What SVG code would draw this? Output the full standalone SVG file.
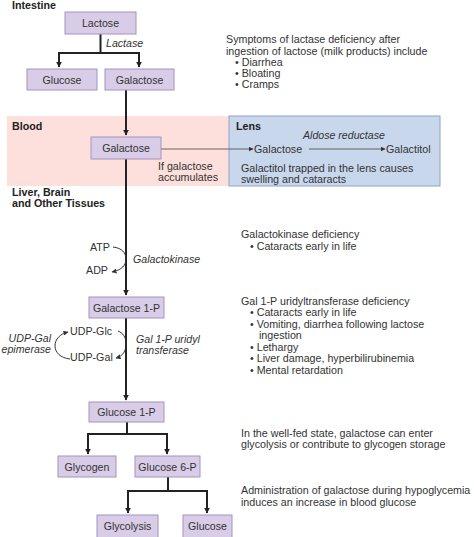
<svg xmlns="http://www.w3.org/2000/svg" width="474" height="537" viewBox="0 0 474 537">
<defs>
<marker id="ah" viewBox="0 0 10 10" refX="9" refY="5" markerWidth="6" markerHeight="6" markerUnits="userSpaceOnUse" orient="auto">
<path d="M0,0 L10,5 L0,10 z" fill="#222"/>
</marker>
<marker id="ahs" viewBox="0 0 10 10" refX="9" refY="5" markerWidth="5" markerHeight="5" markerUnits="userSpaceOnUse" orient="auto">
<path d="M0,0 L10,5 L0,10 z" fill="#333"/>
</marker>
</defs>
<style>
text{font-family:"Liberation Sans",Arial,sans-serif;fill:#333;}
.node rect{fill:#d8cce6;stroke:#a494c2;stroke-width:1;}
.node text{font-size:10.6px;text-anchor:middle;}
.hd{font-size:10.7px;font-weight:bold;fill:#222;}
.note{font-size:10.7px;}
.it{font-size:10.6px;font-style:italic;}
.sm{font-size:10.7px;}
.main{stroke:#222;stroke-width:2;fill:none;}
.thin{stroke:#555;stroke-width:0.9;fill:none;}
.curve{stroke:#333;stroke-width:1;fill:none;}
</style>
<rect id="blood" x="7" y="116" width="222" height="70" fill="#fde0dc"/>
<g id="lens">
<rect x="229" y="116" width="211" height="70" fill="#c8d7ec" stroke="#8ea3c7" stroke-width="1"/>
</g>
<text class="hd" x="12" y="9">Intestine</text>
<text class="hd" x="12" y="130">Blood</text>
<text class="hd" x="236" y="130">Lens</text>
<text class="hd" x="12" y="196">Liver, Brain</text>
<text class="hd" x="12" y="207">and Other Tissues</text>

<g id="connectors">
<path class="main" d="M100.5,34 V53 M59,53 H139"/>
<path class="main" d="M59,52 V67" marker-end="url(#ah)"/>
<path class="main" d="M139,52 V67" marker-end="url(#ah)"/>
<path class="main" d="M126,90 V135" marker-end="url(#ah)"/>
<path class="thin" d="M161,149 H253" marker-end="url(#ahs)"/>
<path class="thin" d="M309,149 H385" marker-end="url(#ahs)"/>
<path class="main" d="M126,159 V295" marker-end="url(#ah)"/>
<path class="curve" d="M113,247 C122,248 126,253 126,259 C126,265 122,270 112,272" marker-end="url(#ahs)"/>
<path class="main" d="M126,318 V400" marker-end="url(#ah)"/>
<path class="curve" d="M118,331 C123,333 126,337 126,344 C126,351 123,356 116,358" marker-end="url(#ahs)"/>
<path class="curve" d="M70,359 C60,358 55,352 55,346 C55,339 60,334 68,332" marker-end="url(#ahs)"/>
<path class="main" d="M127,421 V434 M88,434 H167"/>
<path class="main" d="M88,433 V454" marker-end="url(#ah)"/>
<path class="main" d="M167,433 V454" marker-end="url(#ah)"/>
<path class="main" d="M168,477 V491 M128,491 H207"/>
<path class="main" d="M128,490 V513" marker-end="url(#ah)"/>
<path class="main" d="M207,490 V513" marker-end="url(#ah)"/>
</g>

<g id="n-lactose" class="node"><rect x="65" y="12" width="71" height="22"/><text x="100.5" y="27">Lactose</text></g>
<g id="n-glucose1" class="node"><rect x="27" y="69" width="70" height="21"/><text x="62" y="84">Glucose</text></g>
<g id="n-galactose1" class="node"><rect x="105" y="69" width="69" height="21"/><text x="139.5" y="84">Galactose</text></g>
<g id="n-galactose2" class="node"><rect x="91" y="137" width="70" height="22"/><text x="126" y="152">Galactose</text></g>
<g id="n-gal1p" class="node"><rect x="89" y="297" width="75" height="21"/><text x="126.5" y="312">Galactose 1-P</text></g>
<g id="n-glc1p" class="node"><rect x="89" y="402" width="75" height="20"/><text x="126.5" y="416">Glucose 1-P</text></g>
<g id="n-glycogen" class="node"><rect x="58" y="456" width="58" height="21"/><text x="87" y="471">Glycogen</text></g>
<g id="n-glc6p" class="node"><rect x="135" y="456" width="65" height="21"/><text x="167.5" y="471">Glucose 6-P</text></g>
<g id="n-glycolysis" class="node"><rect x="97" y="515" width="61" height="25"/><text x="127.5" y="530">Glycolysis</text></g>
<g id="n-glucose2" class="node"><rect x="183" y="515" width="49" height="25"/><text x="207.5" y="530">Glucose</text></g>

<g id="n-lens-gal"><text class="sm" x="254" y="153">Galactose</text></g>
<g id="n-galactitol"><text class="sm" x="386" y="153">Galactitol</text></g>

<text class="it" x="106" y="47">Lactase</text>
<text class="it" x="303" y="139">Aldose reductase</text>
<text class="sm" x="158" y="170">If galactose</text>
<text class="sm" x="158" y="181">accumulates</text>
<text class="sm" x="241" y="172">Galactitol trapped in the lens causes</text>
<text class="sm" x="241" y="183">swelling and cataracts</text>
<text class="sm" x="90" y="251">ATP</text>
<text class="sm" x="86" y="274">ADP</text>
<text class="it" x="133" y="263">Galactokinase</text>
<text class="sm" x="70" y="335">UDP-Glc</text>
<text class="sm" x="70" y="361">UDP-Gal</text>
<text class="it" x="51" y="342" text-anchor="end">UDP-Gal</text>
<text class="it" x="51" y="353" text-anchor="end">epimerase</text>
<text class="it" x="136" y="343">Gal 1-P uridyl</text>
<text class="it" x="136" y="354">transferase</text>

<g id="notes" class="note">
<text x="226" y="43">Symptoms of lactase deficiency after</text>
<text x="226" y="55">ingestion of lactose (milk products) include</text>
<text x="235" y="66">• Diarrhea</text>
<text x="235" y="77">• Bloating</text>
<text x="235" y="88">• Cramps</text>
<text x="241" y="238">Galactokinase deficiency</text>
<text x="250" y="250">• Cataracts early in life</text>
<text x="241" y="305">Gal 1-P uridyltransferase deficiency</text>
<text x="250" y="316">• Cataracts early in life</text>
<text x="250" y="327.5">• Vomiting, diarrhea following lactose</text>
<text x="259" y="339">ingestion</text>
<text x="250" y="350.5">• Lethargy</text>
<text x="250" y="362">• Liver damage, hyperbilirubinemia</text>
<text x="250" y="373.5">• Mental retardation</text>
<text x="241" y="437">In the well-fed state, galactose can enter</text>
<text x="241" y="448">glycolysis or contribute to glycogen storage</text>
<text x="241" y="494">Administration of galactose during hypoglycemia</text>
<text x="241" y="506">induces an increase in blood glucose</text>
</g>
</svg>
